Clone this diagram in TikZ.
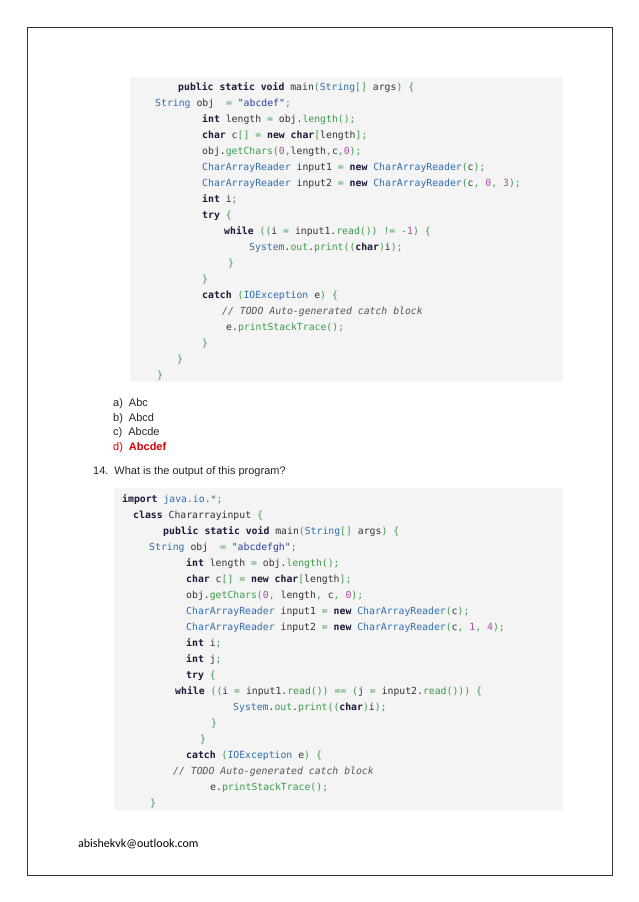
\documentclass[tikz,border=0pt]{standalone}
\usepackage{fontspec}
\setmainfont{Liberation Sans}
\newfontfamily\codefont{DejaVu Sans Mono}
\newfontfamily\footfont{Carlito}
\definecolor{kwc}{HTML}{1A1A3A}
\definecolor{tyc}{HTML}{2F6DAF}
\definecolor{grc}{HTML}{3C9A4A}
\definecolor{nmc}{HTML}{B04AB0}
\definecolor{stc}{HTML}{2A3FA0}
\definecolor{cmc}{HTML}{555555}
\definecolor{boxc}{HTML}{F4F4F4}
\newcommand{\kw}[1]{\textcolor{kwc}{\bfseries #1}}
\newcommand{\ty}[1]{\textcolor{tyc}{#1}}
\newcommand{\gr}[1]{\textcolor{grc}{#1}}
\newcommand{\nm}[1]{\textcolor{nmc}{#1}}
\newcommand{\st}[1]{\textcolor{stc}{#1}}
\begin{document}
\begin{tikzpicture}[x=1pt,y=-1pt,
  code/.style={anchor=base west,inner sep=0pt,font=\codefont\fontsize{9.8}{11}\selectfont,text=black!80},
  ans/.style={anchor=base west,inner sep=0pt,font=\fontsize{11}{13}\selectfont,text=black!85}]
\useasboundingbox (0,0) rectangle (638,902);
\fill[white] (0,0) rectangle (638,902);
\draw[black!80,line width=0.8pt] (27,27) rectangle (612,875);
\fill[boxc] (130,77) rectangle (563,382);
\fill[boxc] (114,488) rectangle (563,810);
% block 1
\node[code] (a1) at (178,90) {\kw{public} \kw{static} \kw{void} main\gr{(}\ty{String}\gr{[]} args\gr{)} \gr{\{}};
\node[code] (a2) at (155,106) {\ty{String} obj \ \gr{=} \st{"abcdef"}\gr{;}};
\node[code] (a3) at (202,122) {\kw{int} length \gr{=} obj.\gr{length();}};
\node[code] (a4) at (202,138) {\kw{char} c\gr{[]} \gr{=} \kw{new} \kw{char}\gr{[}length\gr{];}};
\node[code] (a5) at (202,154) {obj.\gr{getChars(}\nm{0}\gr{,}length\gr{,}c\gr{,}\nm{0}\gr{);}};
\node[code] (a6) at (202,170) {\ty{CharArrayReader} input1 \gr{=} \kw{new} \ty{CharArrayReader}\gr{(}c\gr{);}};
\node[code] (a7) at (202,186) {\ty{CharArrayReader} input2 \gr{=} \kw{new} \ty{CharArrayReader}\gr{(}c\gr{,} \nm{0}\gr{,} \nm{3}\gr{);}};
\node[code] (a8) at (202,202) {\kw{int} i\gr{;}};
\node[code] (a9) at (202,218) {\kw{try} \gr{\{}};
\node[code] (a10) at (224,234) {\kw{while} \gr{((}i \gr{=} input1.\gr{read())} \gr{!=} \gr{-}\nm{1}\gr{)} \gr{\{}};
\node[code] (a11) at (249,250) {\ty{System}.\gr{out}.\gr{print((}\kw{char}\gr{)}i\gr{);}};
\node[code] (a12) at (228,266) {\gr{\}}};
\node[code] (a13) at (202,282) {\gr{\}}};
\node[code] (a14) at (202,298) {\kw{catch} \gr{(}\ty{IOException} e\gr{)} \gr{\{}};
\node[code] (a15) at (222,314) {\textcolor{cmc}{\itshape // TODO Auto-generated catch block}};
\node[code] (a16) at (226,330) {e.\gr{printStackTrace();}};
\node[code] (a17) at (202,346) {\gr{\}}};
\node[code] (a18) at (177,362) {\gr{\}}};
\node[code] (a19) at (157,378) {\gr{\}}};
% answers
\node[ans] (o1) at (113,406) {a)\hspace{6pt}Abc};
\node[ans] (o2) at (113,421) {b)\hspace{6pt}Abcd};
\node[ans] (o3) at (113,435) {c)\hspace{6pt}Abcde};
\node[ans,text=red!85!black] (o4) at (113,450) {d)\hspace{6pt}\textbf{Abcdef}};
\node[ans] (q14) at (93,474) {14.\hspace{6pt}What is the output of this program?};
% block 2
\node[code] (b1) at (122,502) {\kw{import} \ty{java.io.}\gr{*;}};
\node[code] (b2) at (133,518) {\kw{class} Chararrayinput \gr{\{}};
\node[code] (b3) at (163,534) {\kw{public} \kw{static} \kw{void} main\gr{(}\ty{String}\gr{[]} args\gr{)} \gr{\{}};
\node[code] (b4) at (149,550) {\ty{String} obj \ \gr{=} \st{"abcdefgh"}\gr{;}};
\node[code] (b5) at (186,566) {\kw{int} length \gr{=} obj.\gr{length();}};
\node[code] (b6) at (186,582) {\kw{char} c\gr{[]} \gr{=} \kw{new} \kw{char}\gr{[}length\gr{];}};
\node[code] (b7) at (186,598) {obj.\gr{getChars(}\nm{0}\gr{,} length\gr{,} c\gr{,} \nm{0}\gr{);}};
\node[code] (b8) at (186,614) {\ty{CharArrayReader} input1 \gr{=} \kw{new} \ty{CharArrayReader}\gr{(}c\gr{);}};
\node[code] (b9) at (186,630) {\ty{CharArrayReader} input2 \gr{=} \kw{new} \ty{CharArrayReader}\gr{(}c\gr{,} \nm{1}\gr{,} \nm{4}\gr{);}};
\node[code] (b10) at (186,646) {\kw{int} i\gr{;}};
\node[code] (b11) at (186,662) {\kw{int} j\gr{;}};
\node[code] (b12) at (186,678) {\kw{try} \gr{\{}};
\node[code] (b13) at (175,694) {\kw{while} \gr{((}i \gr{=} input1.\gr{read())} \gr{==} \gr{(}j \gr{=} input2.\gr{read()))} \gr{\{}};
\node[code] (b14) at (233,710) {\ty{System}.\gr{out}.\gr{print((}\kw{char}\gr{)}i\gr{);}};
\node[code] (b15) at (211,726) {\gr{\}}};
\node[code] (b16) at (200,742) {\gr{\}}};
\node[code] (b17) at (186,758) {\kw{catch} \gr{(}\ty{IOException} e\gr{)} \gr{\{}};
\node[code] (b18) at (173,774) {\textcolor{cmc}{\itshape // TODO Auto-generated catch block}};
\node[code] (b19) at (210,790) {e.\gr{printStackTrace();}};
\node[code] (b20) at (150,806) {\gr{\}}};
\node[anchor=base west,inner sep=0pt,font=\footfont\fontsize{12}{14}\selectfont] (ft) at (78,847) {abishekvk@outlook.com};
\end{tikzpicture}
\end{document}
